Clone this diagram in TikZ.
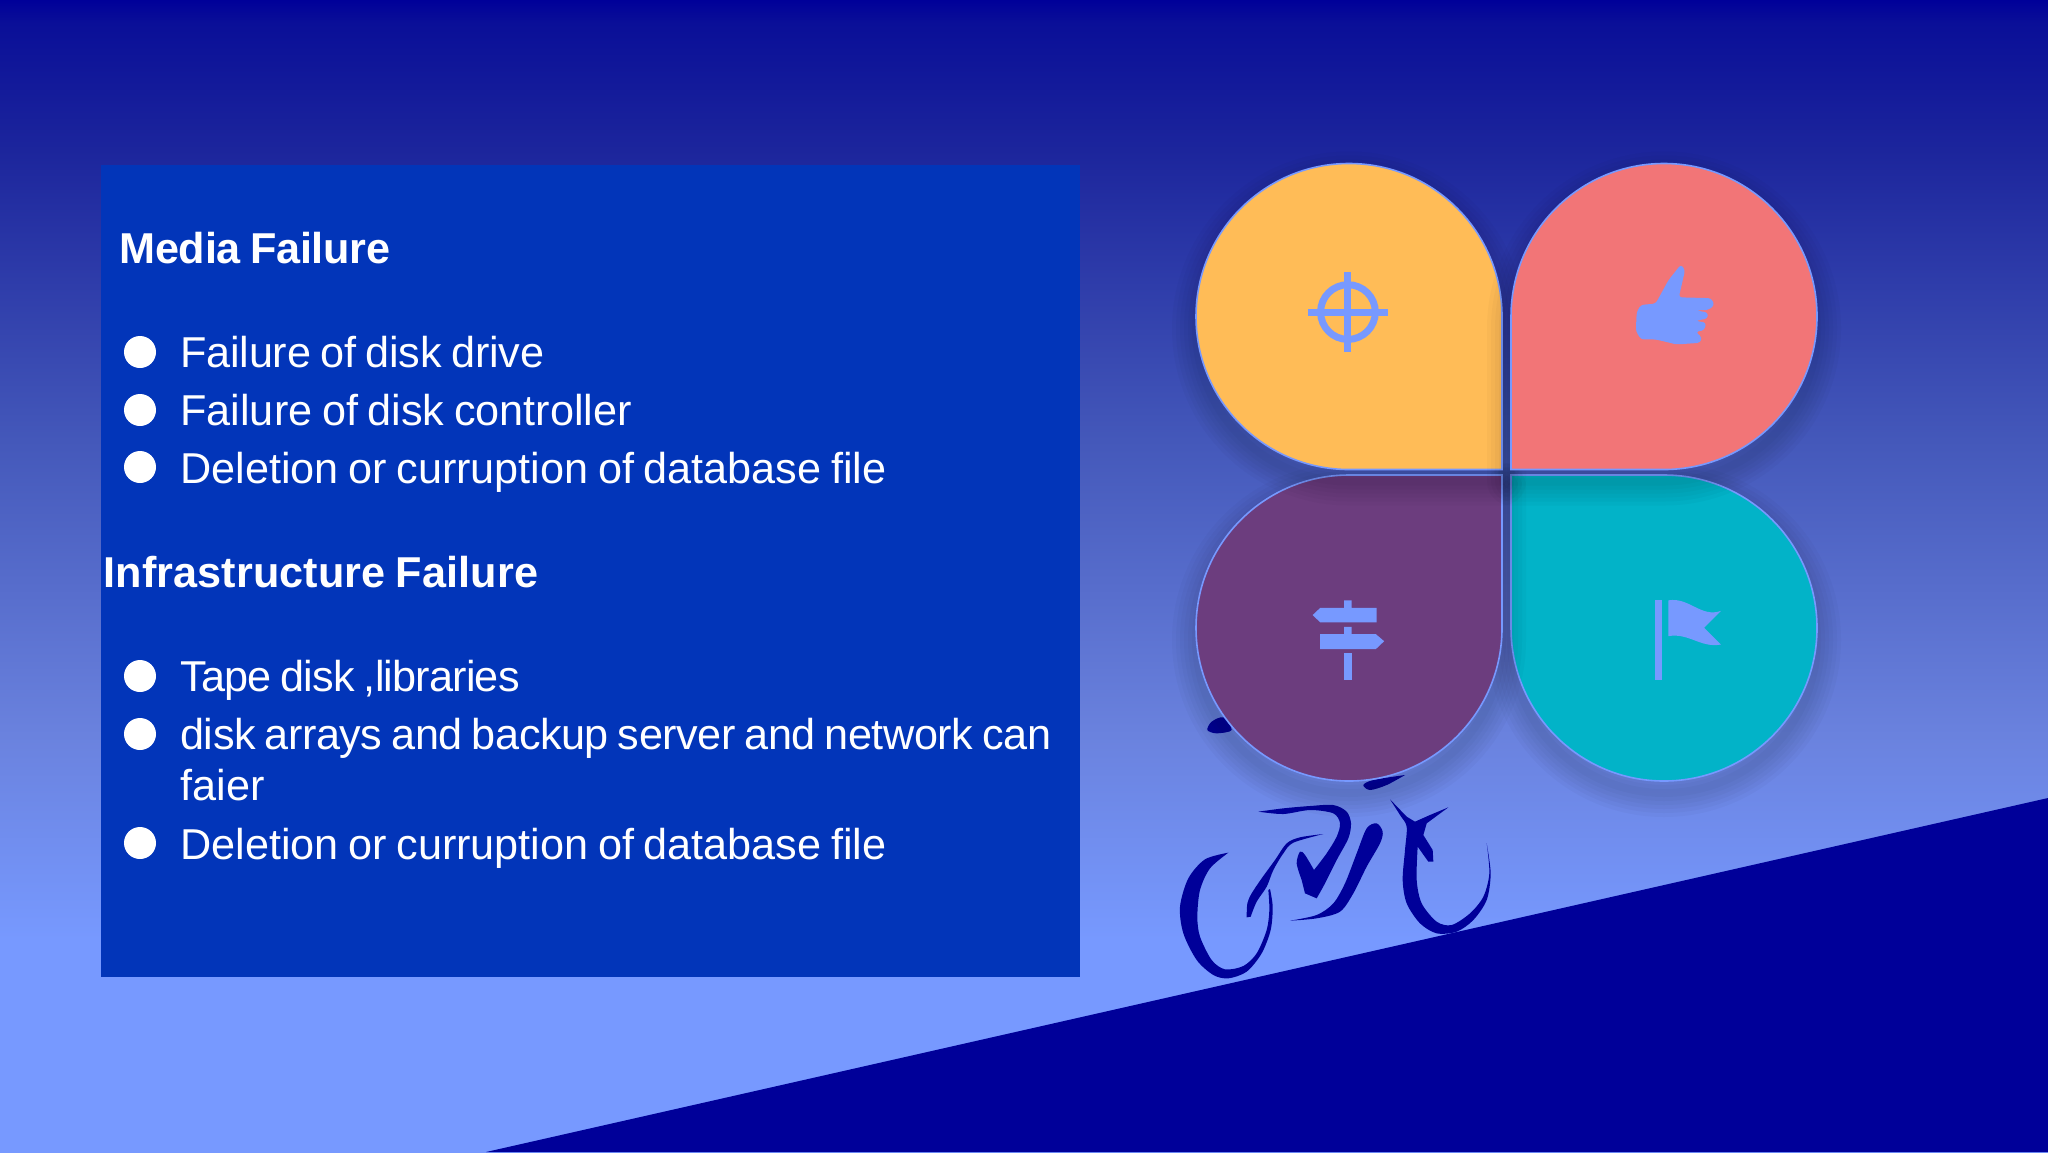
\documentclass[tikz,border=0pt]{standalone}
\usepackage{fontspec}
\setmainfont[WordSpace=0.8]{Liberation Sans}

\definecolor{navy}{HTML}{000099}
\definecolor{bgedge}{HTML}{0A0F98}
\definecolor{bghigh}{HTML}{1C259C}
\definecolor{bgmid}{HTML}{4458BA}
\definecolor{bglow}{HTML}{6A82DE}
\definecolor{sky}{HTML}{7799FF}
\definecolor{panelblue}{HTML}{0235B9}
\definecolor{amber}{HTML}{FFBC57}
\definecolor{coral}{HTML}{F27577}
\definecolor{plum}{HTML}{6C3D7E}
\definecolor{teal}{HTML}{02B3C8}

\pgfdeclareverticalshading{bgfade}{100bp}{color(0bp)=(sky); color(34.2bp)=(sky); color(43.1bp)=(bglow); color(55.9bp)=(bgmid); color(68.5bp)=(bghigh); color(74bp)=(bgedge); color(75bp)=(navy); color(100bp)=(navy)}

\tikzset{
  headline/.style={anchor=base west, inner sep=0pt, text=white, font=\fontsize{21.6}{24}\selectfont\bfseries},
  itemtext/.style={anchor=base west, inner sep=0pt, text=white, font=\fontsize{21.6}{24}\selectfont},
  dot/.style={circle, fill=white, inner sep=0pt, minimum size=16pt},
  stroke/.style={fill=navy, draw=none},
  glyph/.style={fill=sky, draw=none}
}

% #1 centre x, #2 centre y, #3 start angle, #4 colour
\newcommand\petal[4]{
  \foreach \w in {4,8,...,24}
    \draw[black, opacity=.025, line width=\w, line join=round, shift={(0,12)}]
      (#1,#2) ++(#3:\R) arc[start angle=#3, delta angle=270, radius=\R] -- ++(#3:\R) -- cycle;
  \draw[fill=#4, draw=sky, line width=.8pt]
    (#1,#2) ++(#3:\R) arc[start angle=#3, delta angle=270, radius=\R] -- ++(#3:\R) -- cycle;
}

\begin{document}
\begin{tikzpicture}[x=.5pt, y=-.5pt]

  \newcommand\R{153}

  \useasboundingbox (0,0) rectangle (2048,1152);

  \shade[shading=bgfade] (0,0) rectangle (2048,1152);

  % dark slope
  \fill[navy] (486,1152) -- (2048,798) -- (2048,1152) -- cycle;

  % rider
  \begin{scope}[shift={(1150,690)}, scale=1/3]
    \fill[stroke] plot[smooth] coordinates {(235,488) (165,508) (115,565) (90,650) (100,730) (140,810) (190,855) (235,865) (290,845) (335,790) (362,720) (368,650) (360,597)}
      -- plot[smooth] coordinates {(355,600) (358,660) (350,720) (320,790) (280,828) (225,838) (185,810) (150,740) (142,680) (150,600) (180,535) (235,488)} -- cycle;
    \fill[stroke] plot[smooth] coordinates {(520,432) (450,442) (410,460) (375,510) (335,565) (305,610) (292,640) (290,682)}
      -- plot[smooth] coordinates {(302,680) (320,635) (350,590) (370,540) (400,490) (430,458) (520,432)} -- cycle;
    \fill[stroke] plot[smooth] coordinates {(325,365) (400,355) (480,348) (550,345) (590,365) (603,400) (595,445) (560,510) (525,580) (500,625)}
      -- (465,610) -- plot[smooth] coordinates {(455,570) (440,520) (450,485) (465,495) (492,540)}
      -- plot[smooth] coordinates {(492,540) (530,490) (560,440) (570,400) (550,370) (480,360) (400,372) (325,365)} -- cycle;
    \fill[stroke] plot[smooth] coordinates {(420,692) (500,675) (550,640) (585,580) (620,490) (650,415) (680,400) (698,425) (690,460) (650,530) (610,610) (570,665) (500,685) (420,692)} -- cycle;
    \fill[stroke] plot[smooth] coordinates {(720,328) (750,375) (770,410) (765,480) (758,570) (770,640) (810,700) (860,730) (920,725) (970,690) (1010,630) (1022,550) (1010,460)}
      -- plot[smooth] coordinates {(1010,460) (1018,550) (1000,620) (960,670) (905,705) (860,695) (815,640) (800,570) (803,470)}
      -- (835,515) -- (850,515) -- (848,480) -- (820,435) -- (830,400) -- (895,352) -- (840,375) -- (795,395) -- (770,380) -- cycle;
    \fill[stroke] plot[smooth cycle] coordinates {(172,120) (185,95) (220,82) (245,120) (200,130)};
    \fill[stroke] plot[smooth] coordinates {(765,255) (710,285) (660,300) (640,285) (670,270) (765,255)} -- cycle;
  \end{scope}

  % text panel
  \fill[panelblue] (101,165) rectangle (1080,977);

  \node[headline] (media) at (119,263) {\addfontfeature{LetterSpace=-.6}Media Failure};
  \node[itemtext] (drive) at (180,367) {\addfontfeature{LetterSpace=-.5}Failure of disk drive};
  \node[itemtext] (controller) at (180,425) {Failure of disk controller};
  \node[itemtext] (deletionA) at (180,483) {Deletion or curruption of database file};
  \node[headline] (infra) at (103,587) {\addfontfeature{LetterSpace=.3}Infrastructure Failure};
  \node[itemtext] (tape) at (180,691) {\addfontfeature{LetterSpace=-1.9}Tape disk ,libraries};
  \node[itemtext] (arrays) at (180,749) {\addfontfeature{LetterSpace=-1.15}disk arrays and backup server and network can};
  \node[itemtext] (faier) at (180,800) {faier};
  \node[itemtext] (deletionB) at (180,859) {Deletion or curruption of database file};

  \node[dot] (dotA) at (140,352) {};
  \node[dot] (dotB) at (140,410) {};
  \node[dot] (dotC) at (140,467) {};
  \node[dot] (dotD) at (140,676) {};
  \node[dot] (dotE) at (140,734) {};
  \node[dot] (dotF) at (140,843) {};

  % leaves, back to front
  \petal{1664}{628}{270}{teal}
  \petal{1349}{628}{0}{plum}
  \petal{1349}{316.5}{90}{amber}
  \petal{1664}{316.5}{180}{coral}

  % icons
  \begin{scope}[shift={(1180,150)}, scale=.4209]
    \draw[sky, line width=3.5pt] (399,385) circle (65);
    \draw[sky, line width=3.5pt] (305,385) -- (493,385) (399,291) -- (399,480);

    \fill[glyph, rounded corners=1.5pt] (1190,272) -- (1200,285) -- (1185,350) -- (1262,352)
      -- (1270,368) -- (1256,380) -- (1225,381) -- (1254,386) -- (1254,400) -- (1225,406)
      -- (1250,410) -- (1246,428) -- (1225,432) -- (1240,445) -- (1236,458) -- (1180,462)
      -- (1130,450) -- (1095,450) -- (1083,430) -- (1085,385) -- (1095,368) -- (1130,365)
      -- (1160,310) -- cycle;

    \fill[glyph] (315,1105) -- (333,1088) -- (390,1088) -- (390,1070) -- (408,1070) -- (408,1088)
      -- (467,1088) -- (467,1122) -- (333,1122) -- cycle;
    \fill[glyph] (390,1133) -- (408,1133) -- (408,1150) -- (465,1150) -- (485,1167) -- (465,1186)
      -- (333,1186) -- (333,1150) -- (390,1150) -- cycle;
    \fill[glyph] (390,1195) rectangle (408,1258);

    \fill[glyph] (1128,1068) rectangle (1146,1260);
    \fill[glyph] (1160,1070) to[out=10,in=200] (1285,1095) -- (1245,1135) -- (1285,1175)
      to[out=190,in=10] (1160,1155) -- cycle;
  \end{scope}

\end{tikzpicture}
\end{document}
